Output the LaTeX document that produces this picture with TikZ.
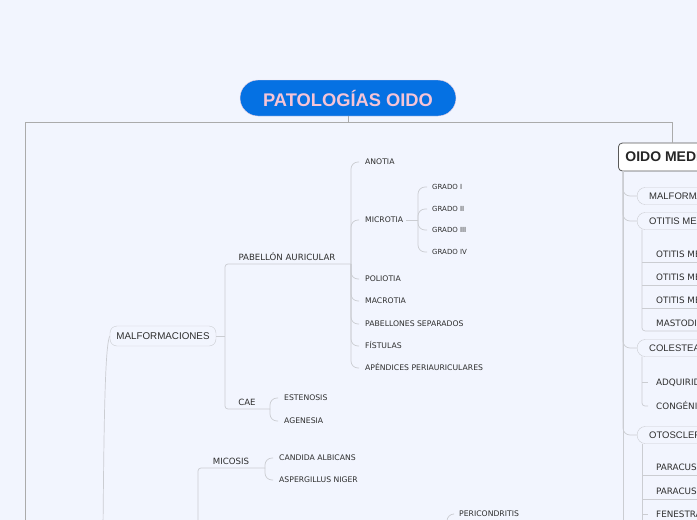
\documentclass[tikz,border=0pt]{standalone}
\usepackage{fontspec}
\setmainfont{DejaVu Sans}
\newfontfamily\arialfont{Liberation Sans}
\usetikzlibrary{positioning}
\definecolor{bgblue}{HTML}{F2F5FE}
\definecolor{titleblue}{HTML}{0571E3}
\definecolor{titlepink}{HTML}{F5C4D6}
\definecolor{inkgray}{HTML}{2E2E2E}
\definecolor{linegray}{HTML}{CBCDD2}
\definecolor{framegray}{HTML}{ABABAB}
\tikzset{
    rootbox/.style={rectangle, rounded corners=18pt, draw=titlepink!70, fill=titleblue, text=titlepink, font=\arialfont\bfseries\fontsize{18.3}{18.3}\selectfont, minimum width=216pt, minimum height=36pt},
    topicbox/.style={rectangle, rounded corners=4pt, draw=gray!70!black, thick, fill=white, text=black!85, font=\arialfont\bfseries\fontsize{14}{14}\selectfont, minimum height=28pt, inner xsep=7pt, anchor=west},
    pillbox/.style={rectangle, rounded corners=8pt, draw=linegray, fill=bgblue, text=inkgray, font=\arialfont\fontsize{9.5}{9.5}\selectfont, minimum height=17pt, inner xsep=12pt, inner ysep=0pt, anchor=west},
    midbox/.style={rectangle, rounded corners=7pt, draw=linegray, fill=bgblue, text=inkgray, font=\arialfont\fontsize{9.8}{9.8}\selectfont, minimum width=106pt, minimum height=20pt, inner sep=0pt},
    groupnode/.style={text=inkgray, font=\fontsize{8.6}{8.6}\selectfont, inner sep=0pt},
    leafnode/.style={text=inkgray, font=\fontsize{7.7}{7.7}\selectfont, text height=5.6pt, text depth=0pt, inner sep=0pt, anchor=west},
    sideleaf/.style={leafnode, font=\fontsize{8.8}{8.8}\selectfont, text height=6.4pt},
    ulnode/.style={sideleaf, inner ysep=4.5pt},
    gradenode/.style={leafnode, font=\fontsize{7}{7}\selectfont, text height=5.1pt},
    branchline/.style={draw=linegray, line width=0.7pt, rounded corners=7pt},
    frameline/.style={draw=framegray, line width=0.8pt}
}

\begin{document}
\begin{tikzpicture}[x=1pt, y=-1pt]
    \useasboundingbox (0,0) rectangle (697,520);
    \fill[bgblue] (0,0) rectangle (697,520);
    \clip (0,0) rectangle (697,520);

    % root and frame
    \node[rootbox] (root) at (348,98) {PATOLOGÍAS OIDO};
    \node[topicbox] (oido) at (618,157) {OIDO MEDIO};
    \coordinate (hub) at (348,122);
    \coordinate (frameL) at (25,530);
    \draw[frameline] (root) -- (hub);
    \draw[frameline] (frameL) -- (25,122) -| ([xshift=54pt]oido.north west);

    % left side
    \node[midbox] (malf) at (163,336) {MALFORMACIONES};
    \coordinate (oext) at (103,530);
    \draw[branchline] (oext) .. controls (104,420) and (105,345) .. (malf.west);

    \node[groupnode] (pab) at (287,257) {PABELLÓN AURICULAR};
    \node[groupnode] (cae) at (247,402) {CAE};
    \coordinate (pabJ) at (351,264);
    \coordinate (caeJ) at (270,409);
    \draw[branchline] (malf.east) -- (225,336);
    \draw[branchline, rounded corners=3pt] (pabJ) -- (225,264) -- (225,409) -- (caeJ);

    \node[leafnode] (anotia) at (365,162) {ANOTIA};
    \node[leafnode] (microtia) at (365,220) {MICROTIA};
    \node[leafnode] (poliotia) at (365,279) {POLIOTIA};
    \node[leafnode] (macrotia) at (365,301) {MACROTIA};
    \node[leafnode] (separados) at (365,324) {PABELLONES SEPARADOS};
    \node[leafnode] (fistulas) at (365,346) {FÍSTULAS};
    \node[leafnode] (apendices) at (365,368) {APÉNDICES PERIAURICULARES};
    \draw[branchline] (pabJ) |- ([xshift=-6pt]anotia.west);
    \draw[branchline] (pabJ) |- ([xshift=-6pt]microtia.west);
    \draw[branchline] (pabJ) |- ([xshift=-6pt]poliotia.west);
    \draw[branchline] (pabJ) |- ([xshift=-6pt]macrotia.west);
    \draw[branchline] (pabJ) |- ([xshift=-6pt]separados.west);
    \draw[branchline] (pabJ) |- ([xshift=-6pt]fistulas.west);
    \draw[branchline] (pabJ) |- ([xshift=-6pt]apendices.west);

    \node[gradenode] (g1) at (432,187) {GRADO I};
    \node[gradenode] (g2) at (432,209) {GRADO II};
    \node[gradenode] (g3) at (432,230) {GRADO III};
    \node[gradenode] (g4) at (432,252) {GRADO IV};
    \coordinate (micJ) at (418,220);
    \draw[branchline] ([xshift=3pt]microtia.east) -- (micJ);
    \draw[branchline] (micJ) |- ([xshift=-5pt]g1.west);
    \draw[branchline] (micJ) |- ([xshift=-5pt]g2.west);
    \draw[branchline] (micJ) |- ([xshift=-5pt]g3.west);
    \draw[branchline] (micJ) |- ([xshift=-5pt]g4.west);

    \node[leafnode] (estenosis) at (284,398) {ESTENOSIS};
    \node[leafnode] (agenesia) at (284,421) {AGENESIA};
    \draw[branchline] (caeJ) |- ([xshift=-6pt]estenosis.west);
    \draw[branchline] (caeJ) |- ([xshift=-6pt]agenesia.west);

    \node[groupnode] (micosis) at (231,461) {MICOSIS};
    \coordinate (micoJ) at (265,468);
    \coordinate (micoL) at (198,530);
    \draw[branchline, rounded corners=3pt] (micoJ) -- (micoJ -| micoL) -- (micoL);
    \node[leafnode] (candida) at (279,458) {CANDIDA ALBICANS};
    \node[leafnode] (aspergillus) at (279,480) {ASPERGILLUS NIGER};
    \draw[branchline] (micoJ) |- ([xshift=-6pt]candida.west);
    \draw[branchline] (micoJ) |- ([xshift=-6pt]aspergillus.west);

    \node[leafnode] (peri) at (459,514) {PERICONDRITIS};
    \coordinate (periJ) at (447,528);
    \draw[branchline] (periJ) |- ([xshift=-6pt]peri.west);

    % right side
    \coordinate (medJ) at ([xshift=5pt]oido.south west);
    \coordinate (medEnd) at (623,530);
    \draw[branchline] (medJ) -- (medEnd);
    \node[pillbox] (rmalf) at (637,196) {MALFORMACIONES};
    \node[pillbox] (rotitis) at (637,221) {OTITIS MEDIA};
    \node[pillbox] (rcol) at (637,348) {COLESTEATOMA};
    \node[pillbox] (rotos) at (637,435) {OTOSCLEROSIS};
    \draw[branchline] (medJ) |- (rmalf.west);
    \draw[branchline] (medJ) |- (rotitis.west);
    \draw[branchline] (medJ) |- (rcol.west);
    \draw[branchline] (medJ) |- (rotos.west);

    \node[ulnode] (om1) at (656,254) {OTITIS MEDIA AGUDA};
    \node[ulnode] (om2) at (656,277) {OTITIS MEDIA CRÓNICA};
    \node[ulnode] (om3) at (656,300) {OTITIS MEDIA SECRETORA};
    \node[ulnode] (om4) at (656,323) {MASTODITIS};
    \coordinate (otJ) at ([xshift=5pt]rotitis.south west);
    \draw[branchline, rounded corners=3pt] (otJ) |- (om4.south east);
    \draw[branchline] (otJ |- om1.south) -- (om1.south east);
    \draw[branchline] (otJ |- om2.south) -- (om2.south east);
    \draw[branchline] (otJ |- om3.south) -- (om3.south east);

    \node[sideleaf] (adq) at (656,382) {ADQUIRIDO};
    \node[sideleaf] (cong) at (656,406) {CONGÉNITO};
    \coordinate (colJ) at ([xshift=5pt]rcol.south west);
    \draw[branchline, rounded corners=3pt] (colJ) |- ([xshift=-8pt]cong.west);
    \draw[branchline] (colJ |- adq.west) -- ([xshift=-8pt]adq.west);

    \node[ulnode] (par1) at (656,467) {PARACUSIA DE WILLIS};
    \node[ulnode] (par2) at (656,491) {PARACUSIA DE WEBER};
    \node[sideleaf] (fen) at (656,514) {FENESTRACIÓN};
    \coordinate (otoJ) at ([xshift=5pt]rotos.south west);
    \coordinate (otoEnd) at (642,530);
    \draw[branchline] (otoJ) -- (otoEnd);
    \draw[branchline] (otoJ |- par1.south) -- (par1.south east);
    \draw[branchline] (otoJ |- par2.south) -- (par2.south east);
    \draw[branchline] (otoJ |- fen.west) -- ([xshift=-8pt]fen.west);
\end{tikzpicture}
\end{document}
